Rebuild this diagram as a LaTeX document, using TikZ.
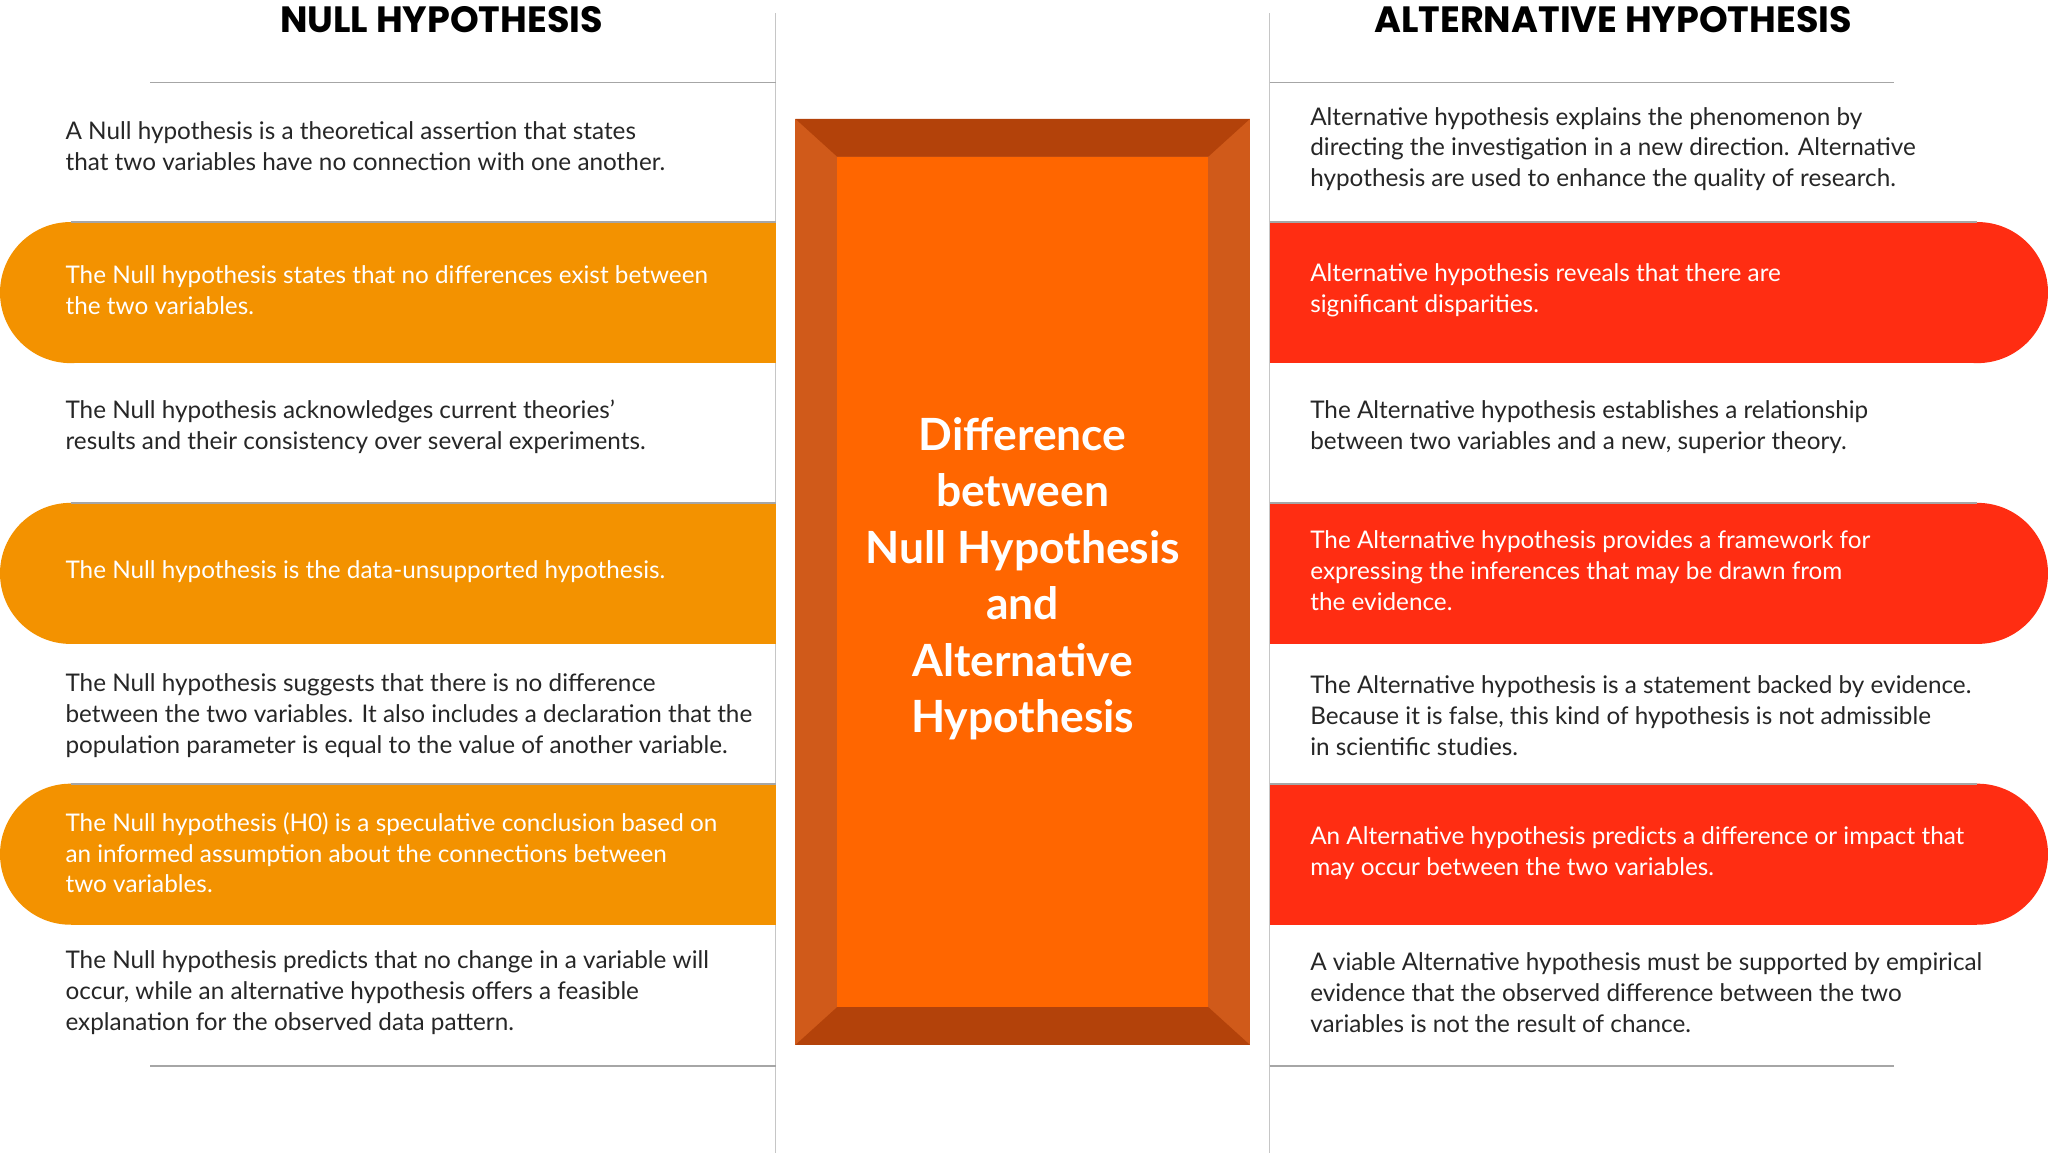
\documentclass[tikz,border=0pt]{standalone}
\usepackage{fontspec}
\setmainfont{Lato}
\newfontfamily\titlefont{Poppins}
\begin{document}
\begin{tikzpicture}[x=1pt,y=-1pt,
  txt/.style={anchor=west,align=left,font=\fontsize{18.6}{23.5}\selectfont,text=black!85,inner sep=0pt},
  wtxt/.style={txt,text=white},
  title/.style={font=\titlefont\fontsize{28}{34}\bfseries\selectfont,inner sep=0pt},
  rule/.style={draw=gray!70,line width=1.2pt},
  vrule/.style={draw=gray!45,line width=0.8pt}]
\definecolor{lorange}{HTML}{F39200}
\definecolor{rred}{HTML}{FF2D12}
\definecolor{cin}{HTML}{FF6600}
\definecolor{ctop}{HTML}{B3420A}
\definecolor{cside}{HTML}{D05A1A}
\useasboundingbox (0,0) rectangle (1568,883);
% vertical rules
\draw[vrule] (594,10) -- (594,883);
\draw[vrule] (972,10) -- (972,883);
% horizontal rules
\draw[rule] (115,63) -- (594,63);
\draw[rule] (972,63) -- (1450,63);
\draw[rule] (115,816) -- (594,816);
\draw[rule] (972,816) -- (1450,816);
% titles
\node[title] (tl) at (338,15) {NULL HYPOTHESIS};
\node[title] (tr) at (1235,15) {ALTERNATIVE HYPOTHESIS};
% pills
\foreach \y in {170,385,600}{
  \fill[lorange] (54,\y+54) circle[radius=54];
  \fill[lorange] (54,\y) rectangle (594,\y+108);
  \draw[gray!70,line width=1.5pt] (54,\y) -- (594,\y);
  \fill[rred] (1514,\y+54) circle[radius=54];
  \fill[rred] (972,\y) rectangle (1514,\y+108);
  \draw[gray!70,line width=1.5pt] (972,\y) -- (1514,\y);
}
% center box
\fill[cside] (609,91) rectangle (957,800);
\fill[ctop] (609,91) -- (957,91) -- (925,120) -- (641,120) -- cycle;
\fill[ctop] (609,800) -- (957,800) -- (925,771) -- (641,771) -- cycle;
\fill[cin] (641,120) rectangle (925,771);
\node[font=\fontsize{34}{43.3}\bfseries\selectfont,text=white,align=center] (ct) at (783,443)
 {Difference\\between\\Null Hypothesis\\and\\Alternative\\Hypothesis};
% left texts
\node[txt] (l1) at (50,112) {A Null hypothesis is a theoretical assertion that states\\that two variables have no connection with one another.};
\node[wtxt] (l2) at (50,222) {The Null hypothesis states that no differences exist between\\the two variables.};
\node[txt] (l3) at (50,327) {The Null hypothesis acknowledges current theories'\\results and their consistency over several experiments.};
\node[wtxt] (l4) at (50,438) {The Null hypothesis is the data-unsupported hypothesis.};
\node[txt] (l5) at (50,548) {The Null hypothesis suggests that there is no difference\\between the two variables. It also includes a declaration that the\\population parameter is equal to the value of another variable.};
\node[wtxt] (l6) at (50,653) {The Null hypothesis (H0) is a speculative conclusion based on\\an informed assumption about the connections between\\two variables.};
\node[txt] (l7) at (50,760) {The Null hypothesis predicts that no change in a variable will\\occur, while an alternative hypothesis offers a feasible\\explanation for the observed data pattern.};
% right texts
\node[txt] (r1) at (1003,114) {Alternative hypothesis explains the phenomenon by\\directing the investigation in a new direction. Alternative\\hypothesis are used to enhance the quality of research.};
\node[wtxt] (r2) at (1003,222) {Alternative hypothesis reveals that there are\\significant disparities.};
\node[txt] (r3) at (1003,327) {The Alternative hypothesis establishes a relationship\\between two variables and a new, superior theory.};
\node[wtxt] (r4) at (1003,437) {The Alternative hypothesis provides a framework for\\expressing the inferences that may be drawn from\\the evidence.};
\node[txt] (r5) at (1003,548) {The Alternative hypothesis is a statement backed by evidence.\\Because it is false, this kind of hypothesis is not admissible\\in scientific studies.};
\node[wtxt] (r6) at (1003,653) {An Alternative hypothesis predicts a difference or impact that\\may occur between the two variables.};
\node[txt] (r7) at (1003,760) {A viable Alternative hypothesis must be supported by empirical\\evidence that the observed difference between the two\\variables is not the result of chance.};
\end{tikzpicture}
\end{document}
